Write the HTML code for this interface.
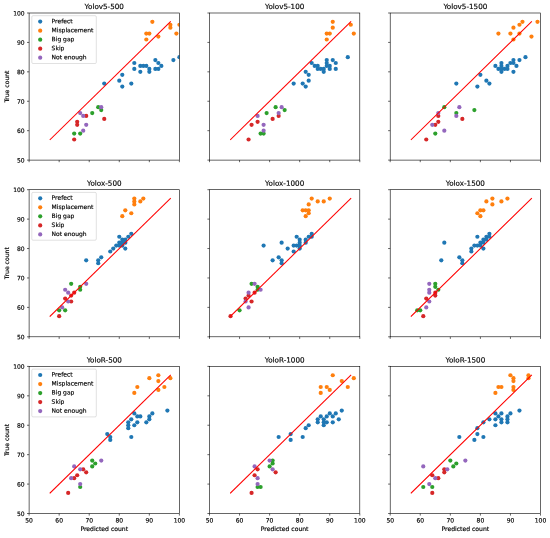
<!DOCTYPE html>
<html lang="en"><head><meta charset="utf-8"><title>Predicted count vs true count</title>
<style>html,body{margin:0;padding:0;background:#fff}svg{display:block}text{stroke:#000;stroke-width:0.16px;text-rendering:geometricPrecision}</style>
</head><body>
<svg width="550" height="538" viewBox="0 0 550 538" font-family="'DejaVu Sans', 'Liberation Sans', sans-serif" fill="#000" stroke="none">
<rect width="550" height="538" fill="#fff"/>
<defs>
<clipPath id="c0"><rect x="29.1" y="13.0" width="150.3" height="147.1"/></clipPath>
<clipPath id="c1"><rect x="209.5" y="13.0" width="150.3" height="147.1"/></clipPath>
<clipPath id="c2"><rect x="390.2" y="13.0" width="150.3" height="147.1"/></clipPath>
<clipPath id="c3"><rect x="29.1" y="189.7" width="150.3" height="147.1"/></clipPath>
<clipPath id="c4"><rect x="209.5" y="189.7" width="150.3" height="147.1"/></clipPath>
<clipPath id="c5"><rect x="390.2" y="189.7" width="150.3" height="147.1"/></clipPath>
<clipPath id="c6"><rect x="29.1" y="366.4" width="150.3" height="147.1"/></clipPath>
<clipPath id="c7"><rect x="209.5" y="366.4" width="150.3" height="147.1"/></clipPath>
<clipPath id="c8"><rect x="390.2" y="366.4" width="150.3" height="147.1"/></clipPath>
</defs>
<g clip-path="url(#c0)">
<g fill="#1f77b4"><circle cx="104.25" cy="83.61" r="2.1"/><circle cx="119.28" cy="80.67" r="2.1"/><circle cx="122.29" cy="74.78" r="2.1"/><circle cx="122.29" cy="86.55" r="2.1"/><circle cx="131.30" cy="83.61" r="2.1"/><circle cx="134.31" cy="63.01" r="2.1"/><circle cx="134.31" cy="68.90" r="2.1"/><circle cx="140.32" cy="71.84" r="2.1"/><circle cx="140.32" cy="65.96" r="2.1"/><circle cx="143.33" cy="65.96" r="2.1"/><circle cx="146.33" cy="65.96" r="2.1"/><circle cx="149.34" cy="68.90" r="2.1"/><circle cx="149.34" cy="71.84" r="2.1"/><circle cx="155.35" cy="60.07" r="2.1"/><circle cx="155.35" cy="68.90" r="2.1"/><circle cx="158.36" cy="63.01" r="2.1"/><circle cx="158.36" cy="68.90" r="2.1"/><circle cx="161.36" cy="65.96" r="2.1"/><circle cx="173.39" cy="60.07" r="2.1"/><circle cx="179.40" cy="57.13" r="2.1"/></g>
<g fill="#ff7f0e"><circle cx="152.35" cy="21.83" r="2.1"/><circle cx="146.33" cy="33.59" r="2.1"/><circle cx="149.34" cy="33.59" r="2.1"/><circle cx="146.33" cy="39.48" r="2.1"/><circle cx="158.36" cy="36.54" r="2.1"/><circle cx="170.38" cy="24.77" r="2.1"/><circle cx="170.38" cy="27.71" r="2.1"/><circle cx="179.40" cy="24.77" r="2.1"/><circle cx="176.39" cy="33.59" r="2.1"/></g>
<g fill="#2ca02c"><circle cx="74.19" cy="133.62" r="2.1"/><circle cx="80.20" cy="133.62" r="2.1"/><circle cx="92.23" cy="113.03" r="2.1"/><circle cx="98.24" cy="107.14" r="2.1"/><circle cx="101.24" cy="110.09" r="2.1"/></g>
<g fill="#d62728"><circle cx="74.19" cy="139.51" r="2.1"/><circle cx="77.20" cy="124.80" r="2.1"/><circle cx="77.20" cy="121.85" r="2.1"/><circle cx="86.21" cy="115.97" r="2.1"/><circle cx="104.25" cy="118.91" r="2.1"/></g>
<g fill="#9467bd"><circle cx="83.21" cy="130.68" r="2.1"/><circle cx="86.21" cy="124.80" r="2.1"/><circle cx="83.21" cy="115.97" r="2.1"/><circle cx="80.20" cy="113.03" r="2.1"/><circle cx="101.24" cy="107.14" r="2.1"/></g>
<line x1="50.14" y1="139.51" x2="170.38" y2="21.83" stroke="#f00" stroke-width="1.05" stroke-linecap="square"/>
</g>
<path d="M29.10 160.1v2.1M29.1 160.10h-2.1M59.16 160.1v2.1M29.1 130.68h-2.1M89.22 160.1v2.1M29.1 101.26h-2.1M119.28 160.1v2.1M29.1 71.84h-2.1M149.34 160.1v2.1M29.1 42.42h-2.1M179.40 160.1v2.1M29.1 13.00h-2.1" stroke="#000" stroke-width="0.6" fill="none"/>
<rect x="29.1" y="13.0" width="150.3" height="147.1" fill="none" stroke="#000" stroke-width="0.6"/>
<text transform="translate(104.25 9.10) rotate(0.03)" font-size="7.2" text-anchor="middle">Yolov5-500</text>
<text transform="translate(24.60 162.50) rotate(0.03)" font-size="6.0" text-anchor="end">50</text>
<text transform="translate(24.60 133.08) rotate(0.03)" font-size="6.0" text-anchor="end">60</text>
<text transform="translate(24.60 103.66) rotate(0.03)" font-size="6.0" text-anchor="end">70</text>
<text transform="translate(24.60 74.24) rotate(0.03)" font-size="6.0" text-anchor="end">80</text>
<text transform="translate(24.60 44.82) rotate(0.03)" font-size="6.0" text-anchor="end">90</text>
<text transform="translate(24.60 15.40) rotate(0.03)" font-size="6.0" text-anchor="end">100</text>
<text transform="translate(8.9 86.55) rotate(-89.97)" font-size="6.1" text-anchor="middle">True count</text>
<rect x="31.80" y="15.70" width="64.5" height="47.8" rx="1.2" fill="#fff" fill-opacity="0.8" stroke="#ccc" stroke-opacity="0.9" stroke-width="0.65"/>
<circle cx="40.20" cy="21.60" r="2.1" fill="#1f77b4"/>
<text transform="translate(51.60 23.15) rotate(0.03)" font-size="6.0">Prefect</text>
<circle cx="40.20" cy="30.63" r="2.1" fill="#ff7f0e"/>
<text transform="translate(51.60 32.18) rotate(0.03)" font-size="6.0">Misplacement</text>
<circle cx="40.20" cy="39.66" r="2.1" fill="#2ca02c"/>
<text transform="translate(51.60 41.21) rotate(0.03)" font-size="6.0">Big gap</text>
<circle cx="40.20" cy="48.69" r="2.1" fill="#d62728"/>
<text transform="translate(51.60 50.24) rotate(0.03)" font-size="6.0">Skip</text>
<circle cx="40.20" cy="57.72" r="2.1" fill="#9467bd"/>
<text transform="translate(51.60 59.27) rotate(0.03)" font-size="6.0">Not enough</text>
<g clip-path="url(#c1)">
<g fill="#1f77b4"><circle cx="293.67" cy="83.61" r="2.1"/><circle cx="302.69" cy="83.61" r="2.1"/><circle cx="305.69" cy="86.55" r="2.1"/><circle cx="305.69" cy="71.84" r="2.1"/><circle cx="308.70" cy="74.78" r="2.1"/><circle cx="308.70" cy="80.67" r="2.1"/><circle cx="311.70" cy="63.01" r="2.1"/><circle cx="314.71" cy="65.96" r="2.1"/><circle cx="317.72" cy="65.96" r="2.1"/><circle cx="317.72" cy="68.90" r="2.1"/><circle cx="320.72" cy="68.90" r="2.1"/><circle cx="323.73" cy="68.90" r="2.1"/><circle cx="323.73" cy="71.84" r="2.1"/><circle cx="326.73" cy="60.07" r="2.1"/><circle cx="326.73" cy="63.01" r="2.1"/><circle cx="326.73" cy="65.96" r="2.1"/><circle cx="329.74" cy="65.96" r="2.1"/><circle cx="329.74" cy="68.90" r="2.1"/><circle cx="332.75" cy="60.07" r="2.1"/><circle cx="335.75" cy="63.01" r="2.1"/><circle cx="335.75" cy="68.90" r="2.1"/><circle cx="347.78" cy="57.13" r="2.1"/></g>
<g fill="#ff7f0e"><circle cx="332.75" cy="21.83" r="2.1"/><circle cx="332.75" cy="27.71" r="2.1"/><circle cx="326.73" cy="33.59" r="2.1"/><circle cx="329.74" cy="33.59" r="2.1"/><circle cx="326.73" cy="39.48" r="2.1"/><circle cx="350.78" cy="24.77" r="2.1"/><circle cx="353.79" cy="33.59" r="2.1"/></g>
<g fill="#2ca02c"><circle cx="260.60" cy="133.62" r="2.1"/><circle cx="263.61" cy="133.62" r="2.1"/><circle cx="266.61" cy="113.03" r="2.1"/><circle cx="275.63" cy="107.14" r="2.1"/><circle cx="284.65" cy="110.09" r="2.1"/></g>
<g fill="#d62728"><circle cx="248.58" cy="139.51" r="2.1"/><circle cx="251.58" cy="124.80" r="2.1"/><circle cx="257.60" cy="121.85" r="2.1"/><circle cx="272.63" cy="118.91" r="2.1"/><circle cx="278.64" cy="115.97" r="2.1"/></g>
<g fill="#9467bd"><circle cx="263.61" cy="130.68" r="2.1"/><circle cx="263.61" cy="124.80" r="2.1"/><circle cx="257.60" cy="115.97" r="2.1"/><circle cx="278.64" cy="113.03" r="2.1"/><circle cx="281.64" cy="107.14" r="2.1"/></g>
<line x1="230.54" y1="139.51" x2="350.78" y2="21.83" stroke="#f00" stroke-width="1.05" stroke-linecap="square"/>
</g>
<path d="M209.50 160.1v2.1M209.5 160.10h-2.1M239.56 160.1v2.1M209.5 130.68h-2.1M269.62 160.1v2.1M209.5 101.26h-2.1M299.68 160.1v2.1M209.5 71.84h-2.1M329.74 160.1v2.1M209.5 42.42h-2.1M359.80 160.1v2.1M209.5 13.00h-2.1" stroke="#000" stroke-width="0.6" fill="none"/>
<rect x="209.5" y="13.0" width="150.3" height="147.1" fill="none" stroke="#000" stroke-width="0.6"/>
<text transform="translate(284.65 9.10) rotate(0.03)" font-size="7.2" text-anchor="middle">Yolov5-100</text>
<g clip-path="url(#c2)">
<g fill="#1f77b4"><circle cx="456.33" cy="83.61" r="2.1"/><circle cx="477.37" cy="86.55" r="2.1"/><circle cx="480.38" cy="74.78" r="2.1"/><circle cx="486.39" cy="80.67" r="2.1"/><circle cx="489.40" cy="83.61" r="2.1"/><circle cx="495.41" cy="65.96" r="2.1"/><circle cx="498.42" cy="68.90" r="2.1"/><circle cx="501.42" cy="63.01" r="2.1"/><circle cx="501.42" cy="65.96" r="2.1"/><circle cx="501.42" cy="68.90" r="2.1"/><circle cx="501.42" cy="71.84" r="2.1"/><circle cx="504.43" cy="68.90" r="2.1"/><circle cx="507.43" cy="65.96" r="2.1"/><circle cx="507.43" cy="68.90" r="2.1"/><circle cx="510.44" cy="63.01" r="2.1"/><circle cx="513.45" cy="60.07" r="2.1"/><circle cx="513.45" cy="63.01" r="2.1"/><circle cx="513.45" cy="71.84" r="2.1"/><circle cx="516.45" cy="65.96" r="2.1"/><circle cx="519.46" cy="60.07" r="2.1"/><circle cx="525.47" cy="57.13" r="2.1"/></g>
<g fill="#ff7f0e"><circle cx="498.42" cy="33.59" r="2.1"/><circle cx="510.44" cy="33.59" r="2.1"/><circle cx="513.45" cy="27.71" r="2.1"/><circle cx="513.45" cy="39.48" r="2.1"/><circle cx="519.46" cy="24.77" r="2.1"/><circle cx="519.46" cy="33.59" r="2.1"/><circle cx="522.46" cy="21.83" r="2.1"/><circle cx="531.48" cy="36.54" r="2.1"/><circle cx="537.49" cy="21.83" r="2.1"/></g>
<g fill="#2ca02c"><circle cx="435.29" cy="133.62" r="2.1"/><circle cx="444.31" cy="107.14" r="2.1"/><circle cx="456.33" cy="113.03" r="2.1"/><circle cx="474.37" cy="110.09" r="2.1"/></g>
<g fill="#d62728"><circle cx="426.27" cy="139.51" r="2.1"/><circle cx="435.29" cy="124.80" r="2.1"/><circle cx="438.30" cy="121.85" r="2.1"/><circle cx="438.30" cy="115.97" r="2.1"/><circle cx="462.34" cy="118.91" r="2.1"/></g>
<g fill="#9467bd"><circle cx="444.31" cy="130.68" r="2.1"/><circle cx="432.28" cy="124.80" r="2.1"/><circle cx="438.30" cy="113.03" r="2.1"/><circle cx="456.33" cy="115.97" r="2.1"/><circle cx="459.34" cy="107.14" r="2.1"/></g>
<line x1="411.24" y1="139.51" x2="531.48" y2="21.83" stroke="#f00" stroke-width="1.05" stroke-linecap="square"/>
</g>
<path d="M390.20 160.1v2.1M390.2 160.10h-2.1M420.26 160.1v2.1M390.2 130.68h-2.1M450.32 160.1v2.1M390.2 101.26h-2.1M480.38 160.1v2.1M390.2 71.84h-2.1M510.44 160.1v2.1M390.2 42.42h-2.1M540.50 160.1v2.1M390.2 13.00h-2.1" stroke="#000" stroke-width="0.6" fill="none"/>
<rect x="390.2" y="13.0" width="150.3" height="147.1" fill="none" stroke="#000" stroke-width="0.6"/>
<text transform="translate(465.35 9.10) rotate(0.03)" font-size="7.2" text-anchor="middle">Yolov5-1500</text>
<g clip-path="url(#c3)">
<g fill="#1f77b4"><circle cx="86.21" cy="260.31" r="2.1"/><circle cx="98.24" cy="260.31" r="2.1"/><circle cx="98.24" cy="263.25" r="2.1"/><circle cx="101.24" cy="257.37" r="2.1"/><circle cx="110.26" cy="251.48" r="2.1"/><circle cx="113.27" cy="248.54" r="2.1"/><circle cx="116.27" cy="245.60" r="2.1"/><circle cx="119.28" cy="242.66" r="2.1"/><circle cx="119.28" cy="236.77" r="2.1"/><circle cx="122.29" cy="239.71" r="2.1"/><circle cx="122.29" cy="242.66" r="2.1"/><circle cx="122.29" cy="245.60" r="2.1"/><circle cx="125.29" cy="239.71" r="2.1"/><circle cx="125.29" cy="242.66" r="2.1"/><circle cx="125.29" cy="248.54" r="2.1"/><circle cx="128.30" cy="236.77" r="2.1"/><circle cx="131.30" cy="233.83" r="2.1"/><circle cx="119.28" cy="245.60" r="2.1"/></g>
<g fill="#ff7f0e"><circle cx="122.29" cy="216.18" r="2.1"/><circle cx="125.29" cy="210.29" r="2.1"/><circle cx="131.30" cy="213.24" r="2.1"/><circle cx="134.31" cy="198.53" r="2.1"/><circle cx="134.31" cy="201.47" r="2.1"/><circle cx="134.31" cy="204.41" r="2.1"/><circle cx="140.32" cy="201.47" r="2.1"/><circle cx="143.33" cy="198.53" r="2.1"/></g>
<g fill="#2ca02c"><circle cx="59.16" cy="310.32" r="2.1"/><circle cx="65.17" cy="310.32" r="2.1"/><circle cx="71.18" cy="283.84" r="2.1"/><circle cx="80.20" cy="286.79" r="2.1"/><circle cx="80.20" cy="289.73" r="2.1"/></g>
<g fill="#d62728"><circle cx="59.16" cy="316.21" r="2.1"/><circle cx="71.18" cy="301.50" r="2.1"/><circle cx="65.17" cy="298.55" r="2.1"/><circle cx="71.18" cy="295.61" r="2.1"/><circle cx="74.19" cy="292.67" r="2.1"/></g>
<g fill="#9467bd"><circle cx="62.17" cy="307.38" r="2.1"/><circle cx="68.18" cy="301.50" r="2.1"/><circle cx="68.18" cy="292.67" r="2.1"/><circle cx="65.17" cy="289.73" r="2.1"/><circle cx="86.21" cy="283.84" r="2.1"/></g>
<line x1="50.14" y1="316.21" x2="170.38" y2="198.53" stroke="#f00" stroke-width="1.05" stroke-linecap="square"/>
</g>
<path d="M29.10 336.79999999999995v2.1M29.1 336.80h-2.1M59.16 336.79999999999995v2.1M29.1 307.38h-2.1M89.22 336.79999999999995v2.1M29.1 277.96h-2.1M119.28 336.79999999999995v2.1M29.1 248.54h-2.1M149.34 336.79999999999995v2.1M29.1 219.12h-2.1M179.40 336.79999999999995v2.1M29.1 189.70h-2.1" stroke="#000" stroke-width="0.6" fill="none"/>
<rect x="29.1" y="189.7" width="150.3" height="147.1" fill="none" stroke="#000" stroke-width="0.6"/>
<text transform="translate(104.25 185.80) rotate(0.03)" font-size="7.2" text-anchor="middle">Yolox-500</text>
<text transform="translate(24.60 339.20) rotate(0.03)" font-size="6.0" text-anchor="end">50</text>
<text transform="translate(24.60 309.78) rotate(0.03)" font-size="6.0" text-anchor="end">60</text>
<text transform="translate(24.60 280.36) rotate(0.03)" font-size="6.0" text-anchor="end">70</text>
<text transform="translate(24.60 250.94) rotate(0.03)" font-size="6.0" text-anchor="end">80</text>
<text transform="translate(24.60 221.52) rotate(0.03)" font-size="6.0" text-anchor="end">90</text>
<text transform="translate(24.60 192.10) rotate(0.03)" font-size="6.0" text-anchor="end">100</text>
<text transform="translate(8.9 263.25) rotate(-89.97)" font-size="6.1" text-anchor="middle">True count</text>
<rect x="31.80" y="192.40" width="64.5" height="47.8" rx="1.2" fill="#fff" fill-opacity="0.8" stroke="#ccc" stroke-opacity="0.9" stroke-width="0.65"/>
<circle cx="40.20" cy="198.30" r="2.1" fill="#1f77b4"/>
<text transform="translate(51.60 199.85) rotate(0.03)" font-size="6.0">Prefect</text>
<circle cx="40.20" cy="207.33" r="2.1" fill="#ff7f0e"/>
<text transform="translate(51.60 208.88) rotate(0.03)" font-size="6.0">Misplacement</text>
<circle cx="40.20" cy="216.36" r="2.1" fill="#2ca02c"/>
<text transform="translate(51.60 217.91) rotate(0.03)" font-size="6.0">Big gap</text>
<circle cx="40.20" cy="225.39" r="2.1" fill="#d62728"/>
<text transform="translate(51.60 226.94) rotate(0.03)" font-size="6.0">Skip</text>
<circle cx="40.20" cy="234.42" r="2.1" fill="#9467bd"/>
<text transform="translate(51.60 235.97) rotate(0.03)" font-size="6.0">Not enough</text>
<g clip-path="url(#c4)">
<g fill="#1f77b4"><circle cx="263.61" cy="245.60" r="2.1"/><circle cx="272.63" cy="260.31" r="2.1"/><circle cx="278.64" cy="257.37" r="2.1"/><circle cx="281.64" cy="260.31" r="2.1"/><circle cx="281.64" cy="263.25" r="2.1"/><circle cx="281.64" cy="242.66" r="2.1"/><circle cx="287.66" cy="248.54" r="2.1"/><circle cx="293.67" cy="251.48" r="2.1"/><circle cx="293.67" cy="245.60" r="2.1"/><circle cx="296.67" cy="245.60" r="2.1"/><circle cx="296.67" cy="236.77" r="2.1"/><circle cx="299.68" cy="239.71" r="2.1"/><circle cx="299.68" cy="242.66" r="2.1"/><circle cx="299.68" cy="245.60" r="2.1"/><circle cx="299.68" cy="248.54" r="2.1"/><circle cx="305.69" cy="239.71" r="2.1"/><circle cx="305.69" cy="242.66" r="2.1"/><circle cx="308.70" cy="236.77" r="2.1"/><circle cx="311.70" cy="233.83" r="2.1"/><circle cx="311.70" cy="236.77" r="2.1"/></g>
<g fill="#ff7f0e"><circle cx="302.69" cy="210.29" r="2.1"/><circle cx="305.69" cy="210.29" r="2.1"/><circle cx="308.70" cy="210.29" r="2.1"/><circle cx="308.70" cy="213.24" r="2.1"/><circle cx="305.69" cy="216.18" r="2.1"/><circle cx="308.70" cy="204.41" r="2.1"/><circle cx="311.70" cy="198.53" r="2.1"/><circle cx="317.72" cy="201.47" r="2.1"/><circle cx="323.73" cy="201.47" r="2.1"/><circle cx="329.74" cy="198.53" r="2.1"/></g>
<g fill="#2ca02c"><circle cx="239.56" cy="310.32" r="2.1"/><circle cx="257.60" cy="289.73" r="2.1"/><circle cx="257.60" cy="286.79" r="2.1"/><circle cx="251.58" cy="283.84" r="2.1"/></g>
<g fill="#d62728"><circle cx="230.54" cy="316.21" r="2.1"/><circle cx="251.58" cy="301.50" r="2.1"/><circle cx="245.57" cy="298.55" r="2.1"/><circle cx="248.58" cy="295.61" r="2.1"/><circle cx="254.59" cy="292.67" r="2.1"/></g>
<g fill="#9467bd"><circle cx="248.58" cy="307.38" r="2.1"/><circle cx="245.57" cy="301.50" r="2.1"/><circle cx="248.58" cy="292.67" r="2.1"/><circle cx="260.60" cy="289.73" r="2.1"/><circle cx="254.59" cy="283.84" r="2.1"/></g>
<line x1="230.54" y1="316.21" x2="350.78" y2="198.53" stroke="#f00" stroke-width="1.05" stroke-linecap="square"/>
</g>
<path d="M209.50 336.79999999999995v2.1M209.5 336.80h-2.1M239.56 336.79999999999995v2.1M209.5 307.38h-2.1M269.62 336.79999999999995v2.1M209.5 277.96h-2.1M299.68 336.79999999999995v2.1M209.5 248.54h-2.1M329.74 336.79999999999995v2.1M209.5 219.12h-2.1M359.80 336.79999999999995v2.1M209.5 189.70h-2.1" stroke="#000" stroke-width="0.6" fill="none"/>
<rect x="209.5" y="189.7" width="150.3" height="147.1" fill="none" stroke="#000" stroke-width="0.6"/>
<text transform="translate(284.65 185.80) rotate(0.03)" font-size="7.2" text-anchor="middle">Yolox-1000</text>
<g clip-path="url(#c5)">
<g fill="#1f77b4"><circle cx="444.31" cy="242.66" r="2.1"/><circle cx="441.30" cy="260.31" r="2.1"/><circle cx="459.34" cy="257.37" r="2.1"/><circle cx="462.34" cy="260.31" r="2.1"/><circle cx="462.34" cy="263.25" r="2.1"/><circle cx="471.36" cy="248.54" r="2.1"/><circle cx="471.36" cy="251.48" r="2.1"/><circle cx="474.37" cy="245.60" r="2.1"/><circle cx="477.37" cy="245.60" r="2.1"/><circle cx="477.37" cy="236.77" r="2.1"/><circle cx="480.38" cy="242.66" r="2.1"/><circle cx="480.38" cy="245.60" r="2.1"/><circle cx="483.39" cy="239.71" r="2.1"/><circle cx="483.39" cy="242.66" r="2.1"/><circle cx="483.39" cy="248.54" r="2.1"/><circle cx="486.39" cy="236.77" r="2.1"/><circle cx="486.39" cy="239.71" r="2.1"/><circle cx="489.40" cy="233.83" r="2.1"/><circle cx="489.40" cy="236.77" r="2.1"/></g>
<g fill="#ff7f0e"><circle cx="477.37" cy="213.24" r="2.1"/><circle cx="480.38" cy="210.29" r="2.1"/><circle cx="483.39" cy="210.29" r="2.1"/><circle cx="480.38" cy="216.18" r="2.1"/><circle cx="486.39" cy="201.47" r="2.1"/><circle cx="492.40" cy="198.53" r="2.1"/><circle cx="492.40" cy="204.41" r="2.1"/><circle cx="501.42" cy="201.47" r="2.1"/><circle cx="507.43" cy="198.53" r="2.1"/></g>
<g fill="#2ca02c"><circle cx="417.25" cy="310.32" r="2.1"/><circle cx="420.26" cy="310.32" r="2.1"/><circle cx="438.30" cy="289.73" r="2.1"/><circle cx="435.29" cy="286.79" r="2.1"/><circle cx="435.29" cy="283.84" r="2.1"/></g>
<g fill="#d62728"><circle cx="423.27" cy="316.21" r="2.1"/><circle cx="426.27" cy="298.55" r="2.1"/><circle cx="435.29" cy="295.61" r="2.1"/><circle cx="435.29" cy="292.67" r="2.1"/></g>
<g fill="#9467bd"><circle cx="426.27" cy="307.38" r="2.1"/><circle cx="429.28" cy="301.50" r="2.1"/><circle cx="429.28" cy="292.67" r="2.1"/><circle cx="429.28" cy="289.73" r="2.1"/><circle cx="429.28" cy="283.84" r="2.1"/></g>
<line x1="411.24" y1="316.21" x2="531.48" y2="198.53" stroke="#f00" stroke-width="1.05" stroke-linecap="square"/>
</g>
<path d="M390.20 336.79999999999995v2.1M390.2 336.80h-2.1M420.26 336.79999999999995v2.1M390.2 307.38h-2.1M450.32 336.79999999999995v2.1M390.2 277.96h-2.1M480.38 336.79999999999995v2.1M390.2 248.54h-2.1M510.44 336.79999999999995v2.1M390.2 219.12h-2.1M540.50 336.79999999999995v2.1M390.2 189.70h-2.1" stroke="#000" stroke-width="0.6" fill="none"/>
<rect x="390.2" y="189.7" width="150.3" height="147.1" fill="none" stroke="#000" stroke-width="0.6"/>
<text transform="translate(465.35 185.80) rotate(0.03)" font-size="7.2" text-anchor="middle">Yolox-1500</text>
<g clip-path="url(#c6)">
<g fill="#1f77b4"><circle cx="107.26" cy="434.07" r="2.1"/><circle cx="110.26" cy="437.01" r="2.1"/><circle cx="110.26" cy="439.95" r="2.1"/><circle cx="131.30" cy="437.01" r="2.1"/><circle cx="128.30" cy="422.30" r="2.1"/><circle cx="128.30" cy="425.24" r="2.1"/><circle cx="128.30" cy="428.18" r="2.1"/><circle cx="131.30" cy="419.36" r="2.1"/><circle cx="134.31" cy="413.47" r="2.1"/><circle cx="134.31" cy="425.24" r="2.1"/><circle cx="137.32" cy="416.41" r="2.1"/><circle cx="137.32" cy="422.30" r="2.1"/><circle cx="140.32" cy="416.41" r="2.1"/><circle cx="146.33" cy="422.30" r="2.1"/><circle cx="149.34" cy="416.41" r="2.1"/><circle cx="149.34" cy="419.36" r="2.1"/><circle cx="152.35" cy="413.47" r="2.1"/><circle cx="167.38" cy="410.53" r="2.1"/></g>
<g fill="#ff7f0e"><circle cx="134.31" cy="392.88" r="2.1"/><circle cx="137.32" cy="386.99" r="2.1"/><circle cx="149.34" cy="378.17" r="2.1"/><circle cx="158.36" cy="375.23" r="2.1"/><circle cx="158.36" cy="381.11" r="2.1"/><circle cx="158.36" cy="389.94" r="2.1"/><circle cx="164.37" cy="386.99" r="2.1"/><circle cx="170.38" cy="378.17" r="2.1"/></g>
<g fill="#2ca02c"><circle cx="80.20" cy="487.02" r="2.1"/><circle cx="92.23" cy="466.43" r="2.1"/><circle cx="95.23" cy="463.49" r="2.1"/><circle cx="92.23" cy="460.54" r="2.1"/></g>
<g fill="#d62728"><circle cx="68.18" cy="492.91" r="2.1"/><circle cx="74.19" cy="478.20" r="2.1"/><circle cx="77.20" cy="475.25" r="2.1"/><circle cx="86.21" cy="472.31" r="2.1"/><circle cx="83.21" cy="469.37" r="2.1"/></g>
<g fill="#9467bd"><circle cx="80.20" cy="484.08" r="2.1"/><circle cx="71.18" cy="478.20" r="2.1"/><circle cx="80.20" cy="469.37" r="2.1"/><circle cx="74.19" cy="466.43" r="2.1"/><circle cx="101.24" cy="460.54" r="2.1"/></g>
<line x1="50.14" y1="492.91" x2="170.38" y2="375.23" stroke="#f00" stroke-width="1.05" stroke-linecap="square"/>
</g>
<path d="M29.10 513.5v2.1M29.1 513.50h-2.1M59.16 513.5v2.1M29.1 484.08h-2.1M89.22 513.5v2.1M29.1 454.66h-2.1M119.28 513.5v2.1M29.1 425.24h-2.1M149.34 513.5v2.1M29.1 395.82h-2.1M179.40 513.5v2.1M29.1 366.40h-2.1" stroke="#000" stroke-width="0.6" fill="none"/>
<rect x="29.1" y="366.4" width="150.3" height="147.1" fill="none" stroke="#000" stroke-width="0.6"/>
<text transform="translate(104.25 362.50) rotate(0.03)" font-size="7.2" text-anchor="middle">YoloR-500</text>
<text transform="translate(24.60 515.90) rotate(0.03)" font-size="6.0" text-anchor="end">50</text>
<text transform="translate(24.60 486.48) rotate(0.03)" font-size="6.0" text-anchor="end">60</text>
<text transform="translate(24.60 457.06) rotate(0.03)" font-size="6.0" text-anchor="end">70</text>
<text transform="translate(24.60 427.64) rotate(0.03)" font-size="6.0" text-anchor="end">80</text>
<text transform="translate(24.60 398.22) rotate(0.03)" font-size="6.0" text-anchor="end">90</text>
<text transform="translate(24.60 368.80) rotate(0.03)" font-size="6.0" text-anchor="end">100</text>
<text transform="translate(8.9 439.95) rotate(-89.97)" font-size="6.1" text-anchor="middle">True count</text>
<rect x="31.80" y="369.10" width="64.5" height="47.8" rx="1.2" fill="#fff" fill-opacity="0.8" stroke="#ccc" stroke-opacity="0.9" stroke-width="0.65"/>
<circle cx="40.20" cy="375.00" r="2.1" fill="#1f77b4"/>
<text transform="translate(51.60 376.55) rotate(0.03)" font-size="6.0">Prefect</text>
<circle cx="40.20" cy="384.03" r="2.1" fill="#ff7f0e"/>
<text transform="translate(51.60 385.58) rotate(0.03)" font-size="6.0">Misplacement</text>
<circle cx="40.20" cy="393.06" r="2.1" fill="#2ca02c"/>
<text transform="translate(51.60 394.61) rotate(0.03)" font-size="6.0">Big gap</text>
<circle cx="40.20" cy="402.09" r="2.1" fill="#d62728"/>
<text transform="translate(51.60 403.64) rotate(0.03)" font-size="6.0">Skip</text>
<circle cx="40.20" cy="411.12" r="2.1" fill="#9467bd"/>
<text transform="translate(51.60 412.67) rotate(0.03)" font-size="6.0">Not enough</text>
<text transform="translate(29.10 522.60) rotate(0.03)" font-size="6.0" text-anchor="middle">50</text>
<text transform="translate(59.16 522.60) rotate(0.03)" font-size="6.0" text-anchor="middle">60</text>
<text transform="translate(89.22 522.60) rotate(0.03)" font-size="6.0" text-anchor="middle">70</text>
<text transform="translate(119.28 522.60) rotate(0.03)" font-size="6.0" text-anchor="middle">80</text>
<text transform="translate(149.34 522.60) rotate(0.03)" font-size="6.0" text-anchor="middle">90</text>
<text transform="translate(179.40 522.60) rotate(0.03)" font-size="6.0" text-anchor="middle">100</text>
<text transform="translate(104.25 530.90) rotate(0.03)" font-size="6.1" text-anchor="middle">Predicted count</text>
<g clip-path="url(#c7)">
<g fill="#1f77b4"><circle cx="278.64" cy="437.01" r="2.1"/><circle cx="290.66" cy="434.07" r="2.1"/><circle cx="290.66" cy="439.95" r="2.1"/><circle cx="302.69" cy="437.01" r="2.1"/><circle cx="305.69" cy="428.18" r="2.1"/><circle cx="308.70" cy="425.24" r="2.1"/><circle cx="317.72" cy="419.36" r="2.1"/><circle cx="317.72" cy="422.30" r="2.1"/><circle cx="320.72" cy="416.41" r="2.1"/><circle cx="323.73" cy="419.36" r="2.1"/><circle cx="323.73" cy="422.30" r="2.1"/><circle cx="323.73" cy="425.24" r="2.1"/><circle cx="326.73" cy="416.41" r="2.1"/><circle cx="326.73" cy="422.30" r="2.1"/><circle cx="329.74" cy="413.47" r="2.1"/><circle cx="332.75" cy="416.41" r="2.1"/><circle cx="332.75" cy="422.30" r="2.1"/><circle cx="335.75" cy="413.47" r="2.1"/><circle cx="338.76" cy="419.36" r="2.1"/><circle cx="341.76" cy="410.53" r="2.1"/></g>
<g fill="#ff7f0e"><circle cx="320.72" cy="386.99" r="2.1"/><circle cx="320.72" cy="392.88" r="2.1"/><circle cx="326.73" cy="386.99" r="2.1"/><circle cx="329.74" cy="389.94" r="2.1"/><circle cx="332.75" cy="375.23" r="2.1"/><circle cx="341.76" cy="381.11" r="2.1"/><circle cx="347.78" cy="386.99" r="2.1"/><circle cx="353.79" cy="378.17" r="2.1"/></g>
<g fill="#2ca02c"><circle cx="257.60" cy="487.02" r="2.1"/><circle cx="260.60" cy="487.02" r="2.1"/><circle cx="272.63" cy="460.54" r="2.1"/><circle cx="272.63" cy="463.49" r="2.1"/><circle cx="269.62" cy="466.43" r="2.1"/></g>
<g fill="#d62728"><circle cx="251.58" cy="492.91" r="2.1"/><circle cx="254.59" cy="475.25" r="2.1"/><circle cx="257.60" cy="469.37" r="2.1"/><circle cx="275.63" cy="472.31" r="2.1"/></g>
<g fill="#9467bd"><circle cx="257.60" cy="484.08" r="2.1"/><circle cx="257.60" cy="478.20" r="2.1"/><circle cx="254.59" cy="466.43" r="2.1"/><circle cx="269.62" cy="460.54" r="2.1"/><circle cx="272.63" cy="469.37" r="2.1"/></g>
<line x1="230.54" y1="492.91" x2="350.78" y2="375.23" stroke="#f00" stroke-width="1.05" stroke-linecap="square"/>
</g>
<path d="M209.50 513.5v2.1M209.5 513.50h-2.1M239.56 513.5v2.1M209.5 484.08h-2.1M269.62 513.5v2.1M209.5 454.66h-2.1M299.68 513.5v2.1M209.5 425.24h-2.1M329.74 513.5v2.1M209.5 395.82h-2.1M359.80 513.5v2.1M209.5 366.40h-2.1" stroke="#000" stroke-width="0.6" fill="none"/>
<rect x="209.5" y="366.4" width="150.3" height="147.1" fill="none" stroke="#000" stroke-width="0.6"/>
<text transform="translate(284.65 362.50) rotate(0.03)" font-size="7.2" text-anchor="middle">YoloR-1000</text>
<text transform="translate(209.50 522.60) rotate(0.03)" font-size="6.0" text-anchor="middle">50</text>
<text transform="translate(239.56 522.60) rotate(0.03)" font-size="6.0" text-anchor="middle">60</text>
<text transform="translate(269.62 522.60) rotate(0.03)" font-size="6.0" text-anchor="middle">70</text>
<text transform="translate(299.68 522.60) rotate(0.03)" font-size="6.0" text-anchor="middle">80</text>
<text transform="translate(329.74 522.60) rotate(0.03)" font-size="6.0" text-anchor="middle">90</text>
<text transform="translate(359.80 522.60) rotate(0.03)" font-size="6.0" text-anchor="middle">100</text>
<text transform="translate(284.65 530.90) rotate(0.03)" font-size="6.1" text-anchor="middle">Predicted count</text>
<g clip-path="url(#c8)">
<g fill="#1f77b4"><circle cx="459.34" cy="437.01" r="2.1"/><circle cx="474.37" cy="439.95" r="2.1"/><circle cx="477.37" cy="434.07" r="2.1"/><circle cx="477.37" cy="428.18" r="2.1"/><circle cx="483.39" cy="437.01" r="2.1"/><circle cx="483.39" cy="422.30" r="2.1"/><circle cx="489.40" cy="419.36" r="2.1"/><circle cx="495.41" cy="413.47" r="2.1"/><circle cx="495.41" cy="419.36" r="2.1"/><circle cx="495.41" cy="425.24" r="2.1"/><circle cx="498.42" cy="416.41" r="2.1"/><circle cx="501.42" cy="413.47" r="2.1"/><circle cx="501.42" cy="419.36" r="2.1"/><circle cx="501.42" cy="422.30" r="2.1"/><circle cx="507.43" cy="416.41" r="2.1"/><circle cx="507.43" cy="419.36" r="2.1"/><circle cx="507.43" cy="422.30" r="2.1"/><circle cx="510.44" cy="413.47" r="2.1"/><circle cx="519.46" cy="410.53" r="2.1"/></g>
<g fill="#ff7f0e"><circle cx="495.41" cy="392.88" r="2.1"/><circle cx="498.42" cy="386.99" r="2.1"/><circle cx="501.42" cy="386.99" r="2.1"/><circle cx="510.44" cy="375.23" r="2.1"/><circle cx="513.45" cy="378.17" r="2.1"/><circle cx="513.45" cy="381.11" r="2.1"/><circle cx="513.45" cy="386.99" r="2.1"/><circle cx="513.45" cy="389.94" r="2.1"/><circle cx="528.48" cy="375.23" r="2.1"/><circle cx="528.48" cy="378.17" r="2.1"/></g>
<g fill="#2ca02c"><circle cx="423.27" cy="487.02" r="2.1"/><circle cx="432.28" cy="487.02" r="2.1"/><circle cx="453.33" cy="466.43" r="2.1"/><circle cx="456.33" cy="463.49" r="2.1"/><circle cx="450.32" cy="460.54" r="2.1"/></g>
<g fill="#d62728"><circle cx="432.28" cy="492.91" r="2.1"/><circle cx="438.30" cy="478.20" r="2.1"/><circle cx="432.28" cy="475.25" r="2.1"/><circle cx="444.31" cy="472.31" r="2.1"/><circle cx="444.31" cy="469.37" r="2.1"/></g>
<g fill="#9467bd"><circle cx="429.28" cy="484.08" r="2.1"/><circle cx="435.29" cy="478.20" r="2.1"/><circle cx="447.31" cy="469.37" r="2.1"/><circle cx="423.27" cy="466.43" r="2.1"/><circle cx="465.35" cy="460.54" r="2.1"/></g>
<line x1="411.24" y1="492.91" x2="531.48" y2="375.23" stroke="#f00" stroke-width="1.05" stroke-linecap="square"/>
</g>
<path d="M390.20 513.5v2.1M390.2 513.50h-2.1M420.26 513.5v2.1M390.2 484.08h-2.1M450.32 513.5v2.1M390.2 454.66h-2.1M480.38 513.5v2.1M390.2 425.24h-2.1M510.44 513.5v2.1M390.2 395.82h-2.1M540.50 513.5v2.1M390.2 366.40h-2.1" stroke="#000" stroke-width="0.6" fill="none"/>
<rect x="390.2" y="366.4" width="150.3" height="147.1" fill="none" stroke="#000" stroke-width="0.6"/>
<text transform="translate(465.35 362.50) rotate(0.03)" font-size="7.2" text-anchor="middle">YoloR-1500</text>
<text transform="translate(390.20 522.60) rotate(0.03)" font-size="6.0" text-anchor="middle">50</text>
<text transform="translate(420.26 522.60) rotate(0.03)" font-size="6.0" text-anchor="middle">60</text>
<text transform="translate(450.32 522.60) rotate(0.03)" font-size="6.0" text-anchor="middle">70</text>
<text transform="translate(480.38 522.60) rotate(0.03)" font-size="6.0" text-anchor="middle">80</text>
<text transform="translate(510.44 522.60) rotate(0.03)" font-size="6.0" text-anchor="middle">90</text>
<text transform="translate(540.50 522.60) rotate(0.03)" font-size="6.0" text-anchor="middle">100</text>
<text transform="translate(465.35 530.90) rotate(0.03)" font-size="6.1" text-anchor="middle">Predicted count</text>
</svg>
</body></html>
